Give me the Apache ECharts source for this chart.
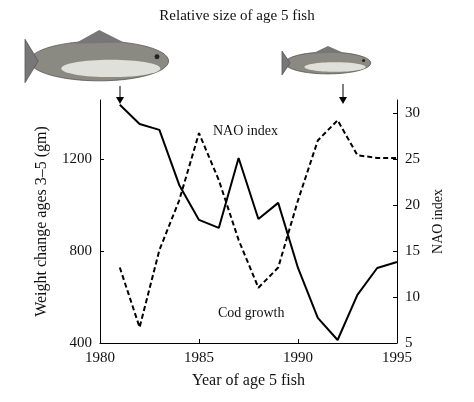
<!DOCTYPE html>
<html><head><meta charset="utf-8">
<script src="https://cdn.jsdelivr.net/npm/echarts@6/dist/echarts.min.js"></script>
<style>html,body{margin:0;background:#fff}#c{width:474px;height:402px}</style>
</head><body><div id="c"></div>
<script>
var years = [1981,1982,1983,1984,1985,1986,1987,1988,1989,1990,1991,1992,1993,1994,1995];
var codGrowth = [1435,1352,1326,1087,935,900,1204,939,1009,726,509,413,609,726,752];
var naoIndex = [13.2,6.7,15.1,20.5,27.8,22.7,16.2,11.0,13.2,20.5,27.0,29.2,25.4,25.1,25.1];

function pairs(v) { return years.map(function (y, i) { return [y, v[i]]; }); }

// simple fish silhouette built from shapes
function fish(x, y, w, h) {
  return {
    type: 'group', x: x, y: y,
    children: [
      { type: 'ellipse', shape: { cx: w * 0.45, cy: h / 2, rx: w * 0.42, ry: h * 0.32 },
        style: { fill: '#8a8a82', stroke: '#555', lineWidth: 0.8 } },
      { type: 'polygon', shape: { points: [[w * 0.08, h / 2], [0, h * 0.15], [0, h * 0.85]] },
        style: { fill: '#777', stroke: '#555', lineWidth: 0.8 } },
      { type: 'polygon', shape: { points: [[w * 0.3, h * 0.22], [w * 0.45, 0], [w * 0.6, h * 0.2]] },
        style: { fill: '#777' } },
      { type: 'ellipse', shape: { cx: w * 0.52, cy: h * 0.62, rx: w * 0.3, ry: h * 0.14 },
        style: { fill: '#e0e0da' } },
      { type: 'circle', shape: { cx: w * 0.8, cy: h * 0.43, r: Math.max(1.5, h * 0.04) },
        style: { fill: '#222' } }
    ]
  };
}

var plain = function (v) { return String(v); };

var chart = echarts.init(document.getElementById('c'));
chart.setOption({
  animation: false,
  textStyle: { fontFamily: 'Liberation Serif' },
  grid: { left: 100, right: 77, top: 100, bottom: 59 },
  title: { text: 'Relative size of age 5 fish', left: 'center', top: 4,
    textStyle: { fontFamily: 'Liberation Serif', fontWeight: 'normal', fontSize: 15, color: '#111' } },
  graphic: [
    fish(25, 30, 165, 62),
    fish(282, 46, 102, 34),
    { type: 'line', shape: { x1: 120, y1: 86, x2: 120, y2: 100 }, style: { stroke: '#000', lineWidth: 1 } },
    { type: 'polygon', shape: { points: [[116, 97], [124, 97], [120, 104]] }, style: { fill: '#000' } },
    { type: 'line', shape: { x1: 343, y1: 84, x2: 343, y2: 100 }, style: { stroke: '#000', lineWidth: 1 } },
    { type: 'polygon', shape: { points: [[339, 97], [347, 97], [343, 104]] }, style: { fill: '#000' } },
    { type: 'text', left: 213, top: 124, style: { text: 'NAO index', fontFamily: 'Liberation Serif', fontSize: 14, fill: '#111' } },
    { type: 'text', left: 218, top: 306, style: { text: 'Cod growth', fontFamily: 'Liberation Serif', fontSize: 14, fill: '#111' } }
  ],
  xAxis: {
    type: 'value', min: 1980, max: 1995, interval: 5,
    name: 'Year of age 5 fish', nameLocation: 'middle', nameGap: 30,
    nameTextStyle: { fontSize: 16, color: '#111', fontFamily: 'Liberation Serif' },
    axisLine: { lineStyle: { color: '#000' } },
    axisTick: { inside: true, length: 4, lineStyle: { color: '#000' } },
    axisLabel: { fontSize: 15, color: '#111', formatter: plain },
    splitLine: { show: false }
  },
  yAxis: [{
    type: 'value', min: 400, max: 1456, interval: 400,
    name: 'Weight change ages 3–5 (gm)', nameLocation: 'middle', nameGap: 50,
    nameTextStyle: { fontSize: 16, color: '#111', fontFamily: 'Liberation Serif' },
    axisLine: { show: true, lineStyle: { color: '#000' } },
    axisTick: { show: true, inside: true, length: 4, lineStyle: { color: '#000' } },
    axisLabel: { fontSize: 15, color: '#111', showMaxLabel: false, formatter: plain },
    splitLine: { show: false }
  }, {
    type: 'value', min: 5, max: 31.4, interval: 5,
    name: 'NAO index', nameLocation: 'middle', nameGap: 34,
    nameTextStyle: { fontSize: 14, color: '#111', fontFamily: 'Liberation Serif' },
    axisLine: { show: true, lineStyle: { color: '#000' } },
    axisTick: { show: true, inside: true, length: 4, lineStyle: { color: '#000' } },
    axisLabel: { fontSize: 15, color: '#111', showMaxLabel: false, formatter: plain },
    splitLine: { show: false }
  }],
  series: [{
    type: 'line', data: pairs(codGrowth), yAxisIndex: 0, symbol: 'none',
    lineStyle: { color: '#000', width: 2 }
  }, {
    type: 'line', data: pairs(naoIndex), yAxisIndex: 1, symbol: 'none',
    lineStyle: { color: '#000', width: 2, type: [5, 3] }
  }]
});
</script></body></html>
